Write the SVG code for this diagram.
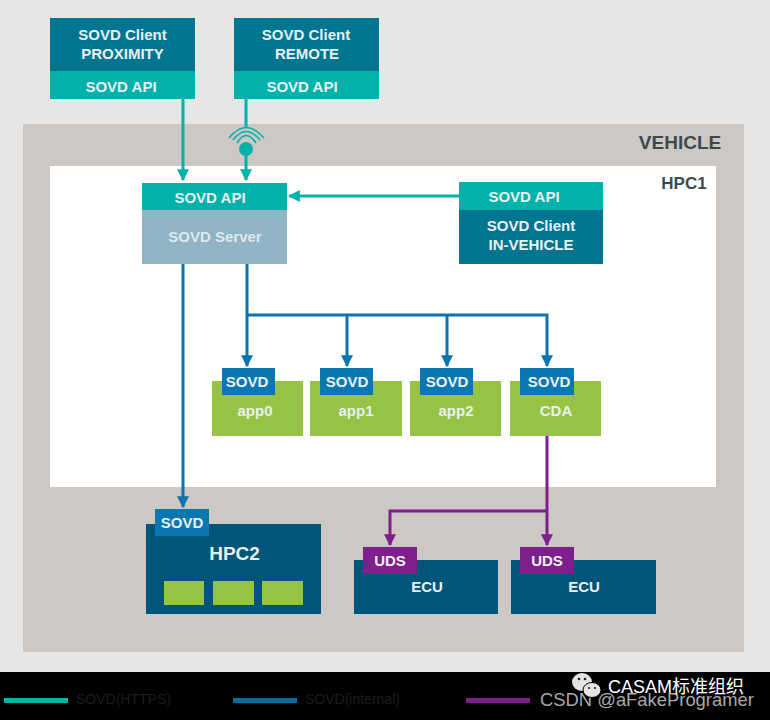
<svg xmlns="http://www.w3.org/2000/svg" width="770" height="720" viewBox="0 0 770 720">
<style>
text{font-family:"Liberation Sans",Arial,sans-serif;font-weight:700;text-anchor:middle;fill:#e8f0f2;font-size:15px}
.teal{fill:#00b2a9}.dark{fill:#005578}.mid{fill:#00758f}.blue{fill:#0a78b0}.green{fill:#97c344}.purple{fill:#7f1f8c}
.ct{fill:none;stroke:#00b2a9;stroke-width:3}.cb{fill:none;stroke:#0a75ad;stroke-width:3}.cp{fill:none;stroke:#7f1f8c;stroke-width:3}
.lg{font-weight:400;font-size:14px;fill:#1c1c1c;text-anchor:start}
.wm{font-weight:400;fill:#a8a8a8;text-anchor:start;font-size:18.4px}
</style>
<defs>
<marker id="at" markerWidth="4" markerHeight="4" refX="3.6" refY="2" orient="auto"><path d="M0 0L4 2L0 4Z" fill="#00b2a9"/></marker>
<marker id="ab" markerWidth="4" markerHeight="4" refX="3.6" refY="2" orient="auto"><path d="M0 0L4 2L0 4Z" fill="#0a75ad"/></marker>
<marker id="ap" markerWidth="4" markerHeight="4" refX="3.6" refY="2" orient="auto"><path d="M0 0L4 2L0 4Z" fill="#7f1f8c"/></marker>
</defs>
<rect width="770" height="672" fill="#e6e6e6"/>
<rect x="0" y="672" width="770" height="48" fill="#000"/>
<rect x="23" y="124" width="721" height="528" fill="#cdc8c4"/>
<text x="680" y="149" style="font-size:19px;fill:#3c4a50">VEHICLE</text>
<rect id="hpc1" x="50" y="166" width="666" height="321" fill="#fff"/>
<text x="684" y="189" style="font-size:17px;fill:#3c4a50">HPC1</text>

<g id="connectors">
<path class="ct" d="M183 99V180" marker-end="url(#at)"/>
<path class="ct" d="M246 99V127"/>
<path class="ct" d="M246 150V180" marker-end="url(#at)"/>
<path class="ct" d="M459 196H289" marker-end="url(#at)"/>
<path class="cb" d="M183 263V507" marker-end="url(#ab)"/>
<path class="cb" d="M247 263V366" marker-end="url(#ab)"/>
<path class="cb" d="M247 315H547V366" marker-end="url(#ab)"/>
<path class="cb" d="M347 315V366" marker-end="url(#ab)"/>
<path class="cb" d="M447 315V366" marker-end="url(#ab)"/>
<path class="cp" d="M547 436V545" marker-end="url(#ap)"/>
<path class="cp" d="M547 511H390V545" marker-end="url(#ap)"/>
</g>

<g id="wifi" fill="none" stroke="#00b2a9" stroke-width="1.6">
<path d="M229 138Q246 117 264 138"/><path d="M233 140Q246 123 260 140"/><path d="M237 143Q246 128 256 143"/>
<circle cx="246" cy="149" r="7" fill="#00b2a9" stroke="none"/>
</g>

<g id="client-proximity">
<rect class="mid" x="50" y="18" width="145" height="53"/>
<rect class="teal" x="50" y="71" width="145" height="28"/>
<text x="122.500" y="40">SOVD Client</text><text x="122.500" y="59">PROXIMITY</text>
<text x="121" y="92">SOVD API</text>
</g>
<g id="client-remote">
<rect x="234" y="18" width="145" height="53" class="mid"/>
<rect class="teal" x="234" y="71" width="145" height="28"/>
<text x="306" y="40">SOVD Client</text><text x="307" y="59">REMOTE</text>
<text x="302" y="92">SOVD API</text>
</g>
<g id="server">
<rect class="teal" x="142" y="183" width="145" height="27"/>
<rect x="142" y="210" width="145" height="54" fill="#90b3c5"/>
<text x="210" y="203">SOVD API</text>
<text x="215" y="242" style="fill:#dfe8ec">SOVD Server</text>
</g>
<g id="client-invehicle">
<rect class="teal" x="459" y="182" width="144" height="28"/>
<rect class="mid" x="459" y="210" width="144" height="54"/>
<text x="524" y="202">SOVD API</text>
<text x="531" y="231">SOVD Client</text><text x="531" y="250">IN-VEHICLE</text>
</g>
<g id="app0">
<rect class="green" x="212" y="381" width="91" height="55"/>
<rect class="blue" x="222" y="368" width="53" height="27"/>
<text x="247" y="387">SOVD</text><text x="255" y="416">app0</text>
</g>
<g id="app1">
<rect class="green" x="310" y="381" width="92" height="55"/>
<rect class="blue" x="320" y="368" width="53" height="27"/>
<text x="347" y="387">SOVD</text><text x="356" y="416">app1</text>
</g>
<g id="app2">
<rect class="green" x="410" y="381" width="91" height="55"/>
<rect class="blue" x="420" y="368" width="53" height="27"/>
<text x="447" y="387">SOVD</text><text x="456" y="416">app2</text>
</g>
<g id="cda">
<rect class="green" x="510" y="381" width="91" height="55"/>
<rect class="blue" x="520" y="368" width="54" height="27"/>
<text x="549" y="387">SOVD</text><text x="556" y="416">CDA</text>
</g>
<g id="hpc2">
<rect class="dark" x="146" y="524" width="175" height="90"/>
<rect class="blue" x="155" y="509" width="54" height="27"/>
<text x="182" y="528">SOVD</text>
<text x="234.500" y="560" style="font-size:19px">HPC2</text>
<rect class="green" x="164" y="581" width="40" height="24"/>
<rect class="green" x="213" y="581" width="41" height="24"/>
<rect class="green" x="262" y="581" width="41" height="24"/>
</g>
<g id="ecu1">
<rect class="dark" x="354" y="560" width="144" height="54"/>
<rect class="purple" x="363" y="547" width="54" height="27"/>
<text x="390" y="566">UDS</text><text x="427" y="592">ECU</text>
</g>
<g id="ecu2">
<rect class="dark" x="511" y="560" width="145" height="54"/>
<rect class="purple" x="520" y="547" width="54" height="27"/>
<text x="547" y="566">UDS</text><text x="584" y="592">ECU</text>
</g>
<g id="legend">
<rect x="4" y="698" width="64" height="5" fill="#00b2a9"/>
<text class="lg" x="76" y="704">SOVD(HTTPS)</text>
<rect x="233" y="698" width="64" height="5" fill="#0a6a9c"/>
<text class="lg" x="305" y="704">SOVD(internal)</text>
<rect x="466" y="698" width="64" height="5" fill="#7f1f8c"/>
</g>
<g id="watermark">
<text class="wm" x="540" y="706">CSDN @aFakeProgramer</text>
<ellipse cx="582" cy="682" rx="10" ry="9" fill="#e4e4e4"/>
<ellipse cx="592" cy="690" rx="9" ry="7.500" fill="#e4e4e4" stroke="#000" stroke-width="1"/>
<circle cx="579" cy="679" r="1.300" fill="#222"/><circle cx="585" cy="679" r="1.300" fill="#222"/>
<circle cx="589" cy="688" r="1.100" fill="#222"/><circle cx="595" cy="688" r="1.100" fill="#222"/>
<text x="608" y="693" style="font-weight:400;font-size:18px;fill:#fff;text-anchor:start;font-family:'Liberation Sans','Noto Sans CJK SC',sans-serif">CASAM标准组织</text>
</g>
</svg>
